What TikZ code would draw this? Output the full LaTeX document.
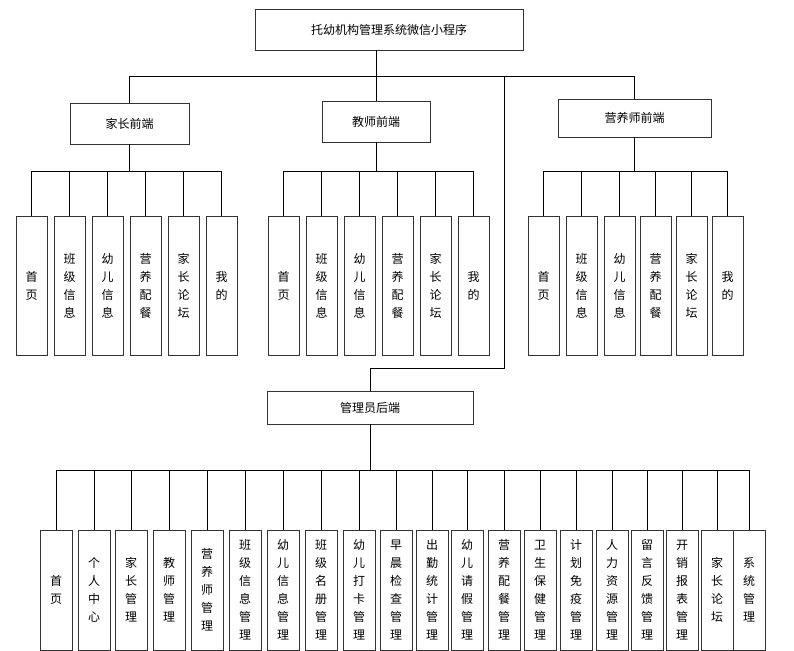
\documentclass[tikz,border=0pt]{standalone}
\usepackage{fontspec}
\setmainfont{Noto Sans CJK SC}
\begin{document}
\begin{tikzpicture}[x=1pt,y=-1pt,
  box/.style={draw=black!80,line width=0.8pt,inner sep=0pt,font=\fontsize{12}{18}\selectfont},
  vbox/.style={box,minimum width=31pt,align=center},
  lbl/.style={font=\fontsize{12}{18}\selectfont,align=center},
  ln/.style={draw=black,line width=0.7pt}]
\useasboundingbox (0,0) rectangle (794,650);
\node[box,minimum width=268pt,minimum height=41pt] (root) at (389,29.5) {托幼机构管理系统微信小程序};
\node[box,minimum width=119pt,minimum height=41pt] (p) at (129.5,123.5) {家长前端};
\node[box,minimum width=108pt,minimum height=41pt] (t) at (376,121.5) {教师前端};
\node[box,minimum width=153pt,minimum height=38pt] (n) at (634.5,118) {营养师前端};
\node[box,minimum width=206pt,minimum height=33pt] (a) at (370,407.5) {管理员后端};
\coordinate (b0) at (376,76);
\draw[ln] (root.south -| b0) -- (b0);
\draw[ln] (p.north) -- (p.north |- b0) -- (n.north |- b0) -- (n.north);
\draw[ln] (t.north) -- (b0);
\coordinate (c1) at (504,76);
\coordinate (c2) at (504,368);
\draw[ln] (c1) -- (c2) -- (c2 -| a.north) -- (a.north);
\foreach \g/\pn/\xs in {P/p/{31.5,69.5,107.5,145.5,183.5,221.5},T/t/{283.5,321.5,359.5,397.5,435.5,473.5},N/n/{543.5,581.5,619.5,655.5,691.5,727.5}}{
  \foreach \x [count=\i] in \xs {
    \node[vbox,minimum height=139pt] (\g\i) at (\x,286) {};
  }
  \draw[ln] (\pn.south) -- (\pn.south |- 0,171);
  \draw[ln] (\g1.north |- 0,171) -- (\g6.north |- 0,171);
  \foreach \i in {1,...,6} \draw[ln] (\g\i.north |- 0,171) -- (\g\i.north);
}
\foreach \g in {P,T,N}{
  \node[lbl] at (\g1) {首\\页};
  \node[lbl] at (\g2) {班\\级\\信\\息};
  \node[lbl] at (\g3) {幼\\儿\\信\\息};
  \node[lbl] at (\g4) {营\\养\\配\\餐};
  \node[lbl] at (\g5) {家\\长\\论\\坛};
  \node[lbl] at (\g6) {我\\的};
}
\foreach \x/\t [count=\i] in {56/{首\\页},94/{个\\人\\中\\心},131/{家\\长\\管\\理},169/{教\\师\\管\\理},207/{营\\养\\师\\管\\理},245/{班\\级\\信\\息\\管\\理},283/{幼\\儿\\信\\息\\管\\理},321/{班\\级\\名\\册\\管\\理},359/{幼\\儿\\打\\卡\\管\\理},396/{早\\晨\\检\\查\\管\\理},432/{出\\勤\\统\\计\\管\\理},467/{幼\\儿\\请\\假\\管\\理},504/{营\\养\\配\\餐\\管\\理},540/{卫\\生\\保\\健\\管\\理},576/{计\\划\\免\\疫\\管\\理},612/{人\\力\\资\\源\\管\\理},647/{留\\言\\反\\馈\\管\\理},682/{开\\销\\报\\表\\管\\理},717/{家\\长\\论\\坛},749/{系\\统\\管\\理}}{
  \node[vbox,minimum height=120pt,minimum width=32pt] (A\i) at (\x,590) {};
  \node[lbl] at (A\i) {\t};
  \draw[ln] (A\i.north) -- (A\i.north |- 0,470);
}
\draw[ln] (a.south) -- (a.south |- 0,470);
\draw[ln] (A1.north |- 0,470) -- (A20.north |- 0,470);
\end{tikzpicture}
\end{document}
